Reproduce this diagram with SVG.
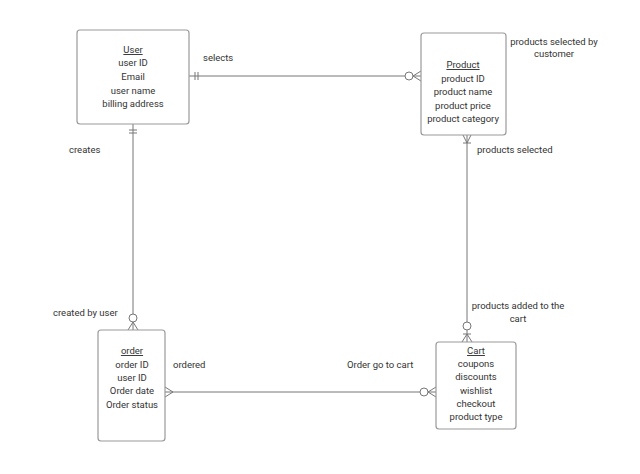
<svg xmlns="http://www.w3.org/2000/svg" width="640" height="474" viewBox="0 0 640 474">
<style>
.box{fill:#fff;stroke:#9a9a9a;stroke-width:1.2}
text{font-family:Roboto,"Liberation Sans",sans-serif;font-size:9.5px;fill:#333}
.c{text-anchor:middle}
.ln{stroke:#777;stroke-width:1;fill:none}
.o{fill:#fff;stroke:#777;stroke-width:1}
</style>
<rect width="640" height="474" fill="#fff"/>
<g id="connectors">
<line class="ln" x1="189" y1="76" x2="421" y2="76"/>
<line class="ln" x1="195" y1="72" x2="195" y2="80"/><line class="ln" x1="198" y1="72" x2="198" y2="80"/>
<path class="ln" d="M421 71 L413 76 L421 81"/><circle class="o" cx="409" cy="76" r="4"/>
<line class="ln" x1="133" y1="124" x2="133" y2="330"/>
<line class="ln" x1="129" y1="130" x2="137" y2="130"/><line class="ln" x1="129" y1="133" x2="137" y2="133"/>
<path class="ln" d="M128 330 L133 322 L138 330"/><circle class="o" cx="133" cy="318" r="4"/>
<line class="ln" x1="467" y1="135" x2="467" y2="342"/>
<path class="ln" d="M463 135 L467 143 L471 135"/><line class="ln" x1="463" y1="143" x2="471" y2="143"/>
<path class="ln" d="M462 342 L467 334 L472 342"/><circle class="o" cx="467" cy="326" r="4"/>
<line class="ln" x1="463" y1="334" x2="471" y2="334"/>
<line class="ln" x1="165" y1="392" x2="436" y2="392"/>
<path class="ln" d="M165 387 L173 392 L165 397"/>
<path class="ln" d="M436 387 L428 392 L436 397"/><circle class="o" cx="424" cy="392" r="4"/>
</g>
<g id="user"><rect class="box" x="77" y="30" width="112" height="94" rx="3"/>
<text class="c" x="133" y="53" text-decoration="underline">User</text>
<text class="c" x="133" y="66">user ID</text><text class="c" x="133" y="80">Email</text>
<text class="c" x="133" y="94">user name</text><text class="c" x="133" y="107">billing address</text></g>
<g id="product"><rect class="box" x="421" y="33" width="85" height="102" rx="3"/>
<text class="c" x="463" y="68" text-decoration="underline">Product</text>
<text class="c" x="463" y="82">product ID</text><text class="c" x="463" y="95">product name</text>
<text class="c" x="463" y="109">product price</text><text class="c" x="463" y="122">product category</text></g>
<g id="order"><rect class="box" x="98" y="330" width="67" height="111" rx="3"/>
<text class="c" x="132" y="354" text-decoration="underline">order</text>
<text class="c" x="132" y="368">order ID</text><text class="c" x="132" y="381">user ID</text>
<text class="c" x="132" y="394">Order date</text><text class="c" x="132" y="408">Order status</text></g>
<g id="cart"><rect class="box" x="436" y="342" width="80" height="87" rx="3"/>
<text class="c" x="476" y="354" text-decoration="underline">Cart</text>
<text class="c" x="476" y="367">coupons</text><text class="c" x="476" y="380">discounts</text>
<text class="c" x="476" y="394">wishlist</text><text class="c" x="476" y="407">checkout</text>
<text class="c" x="476" y="420">product type</text></g>
<g id="labels">
<text x="203" y="61">selects</text>
<text class="c" x="554" y="45">products selected by</text><text class="c" x="554" y="57">customer</text>
<text x="69" y="153">creates</text>
<text x="477" y="153">products selected</text>
<text x="53" y="316">created by user</text>
<text class="c" x="518" y="309">products added to the</text><text class="c" x="518" y="322">cart</text>
<text x="173" y="368">ordered</text>
<text x="347" y="368">Order go to cart</text>
</g>
</svg>
